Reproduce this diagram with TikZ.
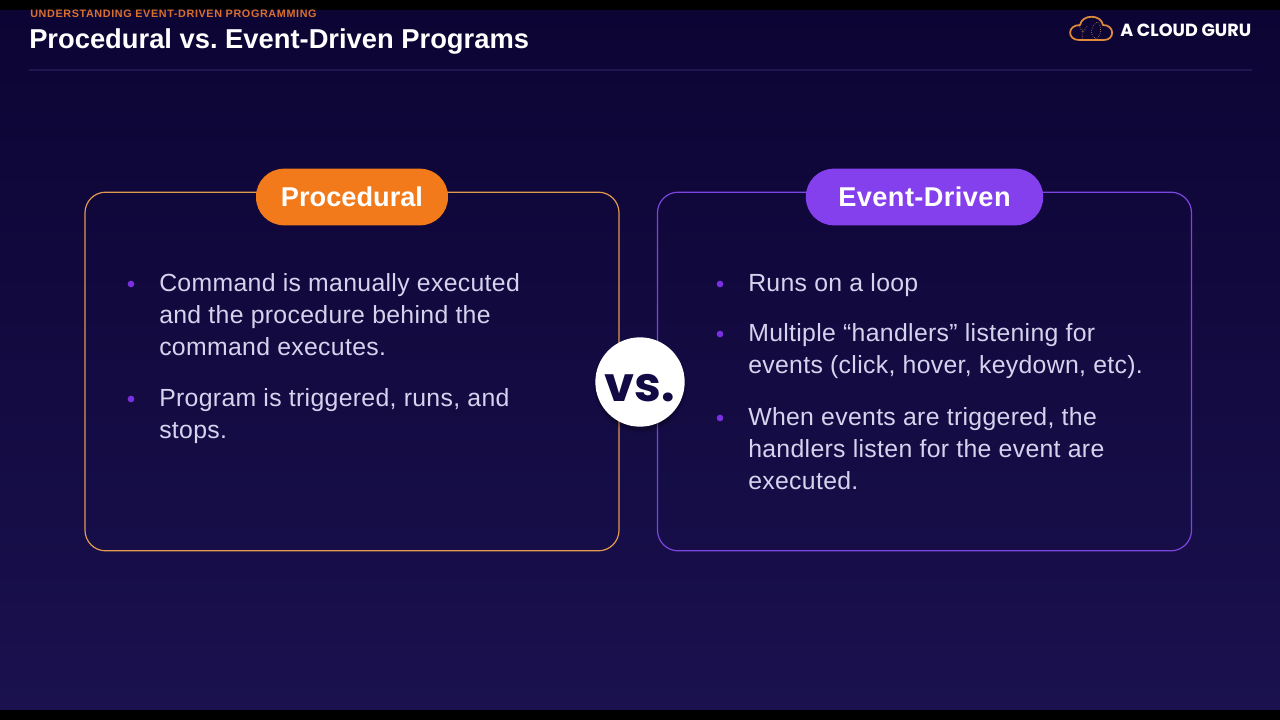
\documentclass[tikz,border=0pt]{standalone}
\usepackage{fontspec}
\setmainfont{Liberation Sans}
\newfontfamily\logofont{Poppins}
\usetikzlibrary{shadows.blur}
\definecolor{bgtop}{HTML}{0C0433}
\definecolor{bgbot}{HTML}{1A114F}
\definecolor{orangeacc}{HTML}{F27A1A}
\definecolor{orangeline}{HTML}{E0994F}
\definecolor{logoorange}{HTML}{E08A3C}
\definecolor{violetacc}{HTML}{8540EE}
\definecolor{violetline}{HTML}{7B45E0}
\definecolor{bodytxt}{HTML}{D6D3EE}
\definecolor{bullet}{HTML}{7A30E0}
\definecolor{rulec}{HTML}{1E1650}
\definecolor{kickerc}{HTML}{D9702D}
\definecolor{vsc}{HTML}{120A45}
\tikzset{
  panel/.style={rounded corners=15.5pt,line width=0.9pt,minimum width=400.5pt,minimum height=269pt,inner sep=0pt},
  pill/.style={rounded corners=21pt,text=white,font=\fontsize{20.4}{24}\selectfont\bfseries,minimum height=42.5pt,inner sep=0pt},
  bodytext/.style={text=bodytxt,font=\fontsize{18.6}{24}\selectfont\addfontfeatures{LetterSpace=1.3},align=left,anchor=north west,inner sep=0pt},
  dotb/.style={circle,fill=bullet,minimum size=5pt,inner sep=0pt},
}
\begin{document}
\frenchspacing
\begin{tikzpicture}[x=0.75pt,y=-0.75pt]
\useasboundingbox (0,0) rectangle (1280,720);
\shade[top color=bgtop,bottom color=bgbot,shading angle=0] (0,0) rectangle (1280,720);
\fill[black] (0,0) rectangle (1280,10);
\fill[black] (0,710) rectangle (1280,720);
% header
\node[anchor=base west,inner sep=0pt,text=kickerc,font=\fontsize{8.1}{10}\selectfont\bfseries\addfontfeatures{LetterSpace=5.8}] (kicker) at (30,18) {UNDERSTANDING EVENT-DRIVEN PROGRAMMING};
\node[anchor=base west,inner sep=0pt,text=white,font=\fontsize{20.5}{24}\selectfont\bfseries] (title) at (29,48.5) {Procedural vs. Event-Driven Programs};
\draw[rulec,line width=1pt] (29,70) -- (1252,70);
% logo
\draw[logoorange,line width=1.3pt,line join=round] (1079,40)
  .. controls (1067,40) and (1067,25) .. (1080,25)
  .. controls (1082,14) and (1101,14) .. (1103,25)
  .. controls (1115,25) and (1115,40) .. (1104,40) -- cycle;
\draw[logoorange!80!white,line width=0.45pt,densely dotted] (1082,39) -- (1083,28) (1079,26) -- (1083,33) (1087,26) -- (1083,33)
  (1096,39) .. controls (1088,34) and (1092,24) .. (1098,22) .. controls (1102,28) and (1102,35) .. (1096,39);
\node[anchor=base west,inner sep=0pt,text=white,font=\fontsize{13.2}{15}\logofont\selectfont\bfseries] (logotext) at (1120,36.5) {A CLOUD GURU};
% panels
\node[panel,draw=orangeline] (procpanel) at (352,371.5) {};
\node[panel,draw=violetline] (eventpanel) at (924.5,371.5) {};
\node[pill,fill=orangeacc,minimum width=144pt] (procpill) at (352,197) {Procedural};
\node[pill,fill=violetacc,minimum width=178pt] (eventpill) at (924.5,197) {\addfontfeatures{LetterSpace=1.5}Event-Driven};
% left body
\node[dotb] (b1) at (131,284) {};
\node[bodytext] (t1) at (159,273) {Command is manually executed\\and the procedure behind the\\command executes.};
\node[dotb] (b2) at (131,399) {};
\node[bodytext] (t2) at (159,388) {Program is triggered, runs, and\\stops.};
% right body
\node[dotb] (b3) at (720,284) {};
\node[bodytext] (t3) at (748,273) {Runs on a loop};
\node[dotb] (b4) at (720,334) {};
\node[bodytext] (t4) at (748,323) {Multiple “handlers” listening for\\events (click, hover, keydown, etc).};
\node[dotb] (b5) at (720,418) {};
\node[bodytext] (t5) at (748,407) {When events are triggered, the\\handlers listen for the event are\\executed.};
% vs
\node[circle,fill=white,minimum size=67pt,inner sep=0pt,blur shadow={shadow xshift=0pt,shadow yshift=-3pt,shadow blur steps=8,shadow opacity=35}] (vs) at (640,382) {};
\node[inner sep=0pt,text=vsc,font=\fontsize{36}{42}\logofont\selectfont\bfseries] (vstext) at (640,388) {vs.};
\end{tikzpicture}
\end{document}
